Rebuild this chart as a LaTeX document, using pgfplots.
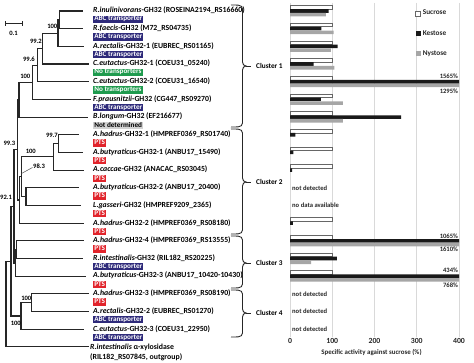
\documentclass[border=0pt]{standalone}
\usepackage{fontspec}
\setmainfont{Carlito}
\usepackage{pgfplots}
\pgfplotsset{compat=1.18}
\definecolor{abc}{HTML}{2E2A7A}
\definecolor{notr}{HTML}{1F9B4E}
\definecolor{pts}{HTML}{E1242B}
\definecolor{nd}{HTML}{D2D2D2}
\newcommand{\lab}{\fontsize{7.8}{8}\selectfont\bfseries}
\newcommand{\boxf}{\fontsize{7.2}{8}\selectfont\bfseries}
\newcommand{\bsf}{\fontsize{6.6}{7}\selectfont\bfseries}
\pgfplotsset{tree/.style={black!85, line width=1.1pt, line cap=rect, no markers}}
\newcommand{\seg}[4]{\addplot[tree] coordinates {(#1,#2) (#3,#4)};}
\newcommand{\leaf}[2]{\node[anchor=west,inner sep=0pt,font=\lab] at (axis cs:93,#1) {#2};}
\newcommand{\tbox}[4]{\node[anchor=west,fill=#2,text=#3,inner xsep=1.1pt,inner ysep=0.5pt,text height=4.9pt,text depth=1.4pt,font=\boxf] at (axis cs:93,#1) {#4};}
\newcommand{\bsl}[3]{\node[anchor=east,inner sep=0pt,font=\bsf] at (axis cs:#1,#2) {#3};}
\newcommand{\clus}[4]{\draw[black!85, line width=0.9pt] (axis cs:231,#1) to[out=0,in=90] (axis cs:242.5,#1+4) -- (axis cs:242.5,#2-4) to[out=-90,in=180] (axis cs:246,#2) to[out=180,in=90] (axis cs:242.5,#2+4) -- (axis cs:242.5,#3-4) to[out=-90,in=0] (axis cs:231,#3);
\draw[black!85, line width=0.9pt] (axis cs:246,#2) -- (axis cs:251,#2);
\node[anchor=west,inner sep=0pt,font=\fontsize{7.3}{8}\selectfont\bfseries] at (axis cs:256,#2) {Cluster #4};}
\begin{document}
\begin{tikzpicture}[x=1pt,y=1pt]
\useasboundingbox (0,0) rectangle (474,363);
\begin{axis}[name=tree, at={(0,0)}, anchor=south west, scale only axis, width=474pt, height=363pt,
  xmin=0, xmax=474, ymin=0, ymax=363, y dir=reverse, hide axis, clip=false]
% leaves
\seg{59.5}{11.0}{82}{11.0}
\seg{59.5}{28.7}{82}{28.7}
\seg{58}{46.4}{83}{46.4}
\seg{42.7}{64.0}{88}{64.0}
\seg{37.7}{81.7}{88}{81.7}
\seg{32.8}{99.4}{90}{99.4}
\seg{19}{117.1}{87}{117.1}
\seg{58.7}{134.8}{78}{134.8}
\seg{58.7}{152.4}{82}{152.4}
\seg{53.3}{170.1}{83}{170.1}
\seg{26}{187.8}{78}{187.8}
\seg{26}{205.5}{80}{205.5}
\seg{19.3}{223.2}{83}{223.2}
\seg{16.5}{240.8}{83}{240.8}
\seg{16.5}{258.5}{82}{258.5}
\seg{15.5}{276.2}{85}{276.2}
\seg{31.7}{293.9}{88}{293.9}
\seg{31.7}{311.6}{88}{311.6}
\seg{21}{329.2}{83}{329.2}
\seg{6}{346.9}{88}{346.9}
% internal nodes: vertical + stem
\seg{59.5}{11.0}{59.5}{28.7}   \seg{58}{19.85}{59.5}{19.85}
\seg{58}{19.85}{58}{46.4}      \seg{42.7}{33.1}{58}{33.1}
\seg{42.7}{33.1}{42.7}{64.0}   \seg{37.7}{48.6}{42.7}{48.6}
\seg{37.7}{48.6}{37.7}{81.7}   \seg{32.8}{65.1}{37.7}{65.1}
\seg{32.8}{65.1}{32.8}{99.4}   \seg{19}{82.3}{32.8}{82.3}
\seg{19}{82.3}{19}{117.1}      \seg{17.3}{99.7}{19}{99.7}
\seg{58.7}{134.8}{58.7}{152.4} \seg{53.3}{143.6}{58.7}{143.6}
\seg{53.3}{143.6}{53.3}{170.1} \seg{21.5}{156.9}{53.3}{156.9}
\seg{26}{187.8}{26}{205.5}     \seg{21.5}{196.7}{26}{196.7}
\seg{21.5}{156.9}{21.5}{196.7} \seg{19.3}{176.8}{21.5}{176.8}
\seg{19.3}{176.8}{19.3}{223.2} \seg{17.3}{200}{19.3}{200}
\seg{17.3}{99.7}{17.3}{200}    \seg{14}{149.9}{17.3}{149.9}
\seg{16.5}{240.8}{16.5}{258.5} \seg{15.5}{249.7}{16.5}{249.7}
\seg{15.5}{249.7}{15.5}{276.2} \seg{14}{263}{15.5}{263}
\seg{14}{149.9}{14}{263}       \seg{11}{206.5}{14}{206.5}
\seg{31.7}{293.9}{31.7}{311.6} \seg{21}{302.7}{31.7}{302.7}
\seg{21}{302.7}{21}{329.2}     \seg{11}{316}{21}{316}
\seg{11}{206.5}{11}{316}       \seg{6}{261.2}{11}{261.2}
\seg{6}{261.2}{6}{346.9}
% scale bar
\addplot[black!85, line width=1pt, no markers] coordinates {(5,24) (22,24)};
\addplot[black!85, line width=1pt, no markers] coordinates {(5,21.5) (5,26.5)};
\addplot[black!85, line width=1pt, no markers] coordinates {(22,21.5) (22,26.5)};
\node[font=\bsf,inner sep=0pt] at (axis cs:13.5,33) {0.1};
% bootstrap values
\bsl{57.5}{26}{100}
\bsl{42}{41.7}{99.2}
\bsl{35}{59}{99.6}
\bsl{30.5}{76}{100}
\bsl{58}{135.5}{99.7}
\bsl{36}{151.5}{100}
\node[anchor=west,inner sep=0pt,font=\bsf] at (axis cs:33,166) {98.3};
\draw[black!70, line width=0.5pt] (axis cs:32.5,167.5) -- (axis cs:21.5,173.5);
\bsl{15.5}{143}{99.3}
\node[anchor=west,inner sep=0pt,font=\bsf] at (axis cs:0,197) {92.1};
\bsl{31.5}{298}{100}
\bsl{21}{323}{100}
% leaf labels
\leaf{10.5}{\textit{R.inulinivorans}-GH32 (ROSEINA2194\_RS16660)}
\tbox{19.2}{abc}{white}{ABC transporter}
\leaf{28.2}{\textit{R.faecis}-GH32 (M72\_RS04735)}
\tbox{36.9}{abc}{white}{ABC transporter}
\leaf{45.9}{\textit{A.rectalis}-GH32-1 (EUBREC\_RS01165)}
\tbox{54.6}{abc}{white}{ABC transporter}
\leaf{63.5}{\textit{C.eutactus}-GH32-1 (COEU31\_05240)}
\tbox{72.2}{notr}{white}{No transporters}
\leaf{81.2}{\textit{C.eutactus}-GH32-2 (COEU31\_16540)}
\tbox{89.9}{notr}{white}{No transporters}
\leaf{98.9}{\textit{F.prausnitzii}-GH32 (CG447\_RS09270)}
\tbox{107.6}{abc}{white}{ABC transporter}
\leaf{116.6}{\textit{B.longum}-GH32 (EF216677)}
\tbox{125.3}{nd}{black}{Not determined}
\leaf{134.3}{\textit{A.hadrus}-GH32-1 (HMPREF0369\_RS01740)}
\tbox{143.0}{pts}{white}{PTS}
\leaf{151.9}{\textit{A.butyraticus}-GH32-1 (ANBU17\_15490)}
\tbox{160.6}{pts}{white}{PTS}
\leaf{169.6}{\textit{A.caccae}-GH32 (ANACAC\_RS03045)}
\tbox{178.3}{pts}{white}{PTS}
\leaf{187.3}{\textit{A.butyraticus}-GH32-2 (ANBU17\_20400)}
\tbox{196.0}{pts}{white}{PTS}
\leaf{205.0}{\textit{L.gasseri}-GH32 (HMPREF9209\_2365)}
\tbox{213.7}{pts}{white}{PTS}
\leaf{222.7}{\textit{A.hadrus}-GH32-2 (HMPREF0369\_RS08180)}
\tbox{231.4}{pts}{white}{PTS}
\leaf{240.3}{\textit{A.hadrus}-GH32-4 (HMPREF0369\_RS13555)}
\tbox{249.0}{pts}{white}{PTS}
\leaf{258.0}{\textit{R.intestinalis}-GH32 (RIL182\_RS20225)}
\tbox{266.7}{abc}{white}{ABC transporter}
\leaf{275.7}{\textit{A.butyraticus}-GH32-3 (ANBU17\_10420-10430)}
\tbox{284.4}{pts}{white}{PTS}
\leaf{293.4}{\textit{A.hadrus}-GH32-3 (HMPREF0369\_RS08190)}
\tbox{302.1}{pts}{white}{PTS}
\leaf{311.1}{\textit{A.rectalis}-GH32-2 (EUBREC\_RS01270)}
\tbox{319.8}{abc}{white}{ABC transporter}
\leaf{328.7}{\textit{C.eutactus}-GH32-3 (COEU31\_22950)}
\tbox{337.4}{abc}{white}{ABC transporter}
\node[anchor=west,inner sep=0pt,font=\lab] at (axis cs:90,347.5) {\textit{R.intestinalis} α-xylosidase};
\node[anchor=west,inner sep=0pt,font=\lab] at (axis cs:90,357.5) {(RIL182\_RS07845, outgroup)};
% clusters
\clus{5}{66}{127}{1}
\clus{129}{182}{234}{2}
\clus{236}{263}{288}{3}
\clus{290}{313}{337}{4}
\end{axis}
\begin{axis}[at={(290pt,26pt)}, anchor=south west, scale only axis, width=169pt, height=334pt,
  xmin=0, xmax=400, ymin=0.5475, ymax=19.439, y dir=reverse,
  axis line style={draw=none}, major tick length=0pt, ytick=\empty,
  xtick={0,100,200,300,400}, xmajorgrids, major grid style={black!15, line width=0.6pt},
  /pgf/number format/assume math mode=true,
  xticklabel style={font=\fontsize{7.8}{8}\selectfont\bfseries, text=black!85, anchor=center, yshift=-3.5pt},
  xlabel={Specific activity against sucrose (\%)},
  xlabel style={font=\fontsize{6.9}{7}\selectfont\bfseries, text=black!85, at={(axis description cs:0.5,0)}, anchor=center, yshift=-16pt, xshift=-3pt},
  legend style={draw=none, fill=none, at={(axis description cs:0.74,0.985)}, anchor=north west,
    font=\fontsize{7.3}{8}\selectfont\bfseries, text=black!85, row sep=10pt, inner sep=0pt},
  legend cell align=left]
\addplot[xbar, bar width=3.6pt, bar shift=3.7pt, draw=black!60, fill=white, line width=0.6pt,
  legend image code/.code={\draw[fill=white,draw=black!60,line width=0.6pt] (0pt,-2.5pt) rectangle (5pt,2.5pt);}] coordinates {
(100,1) (100,2) (100,3) (100,4) (100,5) (100,6) (100,7) (100,8) (100,9) (100,10)
(100,13) (100,14) (100,15) (100,16)};
\addplot[xbar, bar width=3.6pt, bar shift=0pt, draw=none, fill=black!90,
  legend image code/.code={\fill[black!90] (0pt,-2.5pt) rectangle (5pt,2.5pt);}] coordinates {
(91.5,1) (74,2) (113,3) (56,4) (1565,5) (73,6) (263,7) (13,8) (8,9) (5,10)
(7,13) (1065,14) (111,15) (434,16)};
\addplot[xbar, bar width=3.6pt, bar shift=-3.7pt, draw=none, fill=black!35,
  legend image code/.code={\fill[black!35] (0pt,-2.5pt) rectangle (5pt,2.5pt);}] coordinates {
(85,1) (103,2) (97,3) (105,4) (1295,5) (125,6) (125,7) (1610,14) (50,15) (768,16)};
\legend{Sucrose, Kestose, Nystose}
\node[anchor=east,inner sep=0pt,font=\bsf,text=black!85] at (axis cs:398,5) [yshift=5.5pt] {1565\%};
\node[anchor=east,inner sep=0pt,font=\bsf,text=black!85] at (axis cs:398,5) [yshift=-9.5pt] {1295\%};
\node[anchor=east,inner sep=0pt,font=\bsf,text=black!85] at (axis cs:398,14) [yshift=5pt] {1065\%};
\node[anchor=east,inner sep=0pt,font=\bsf,text=black!85] at (axis cs:398,14) [yshift=-8.5pt] {1610\%};
\node[anchor=east,inner sep=0pt,font=\bsf,text=black!85] at (axis cs:398,16) [yshift=6pt] {434\%};
\node[anchor=east,inner sep=0pt,font=\bsf,text=black!85] at (axis cs:398,16) [yshift=-9pt] {768\%};
\node[anchor=west,inner sep=0pt,font=\bsf,text=black!85] at (axis cs:0,11) [xshift=2pt] {not detected};
\node[anchor=west,inner sep=0pt,font=\bsf,text=black!85] at (axis cs:0,12) [xshift=2pt] {no data available};
\node[anchor=west,inner sep=0pt,font=\bsf,text=black!85] at (axis cs:0,17) [xshift=2pt] {not detected};
\node[anchor=west,inner sep=0pt,font=\bsf,text=black!85] at (axis cs:0,18) [xshift=2pt] {not detected};
\node[anchor=west,inner sep=0pt,font=\bsf,text=black!85] at (axis cs:0,19) [xshift=2pt] {not detected};
\end{axis}
\end{tikzpicture}
\end{document}
